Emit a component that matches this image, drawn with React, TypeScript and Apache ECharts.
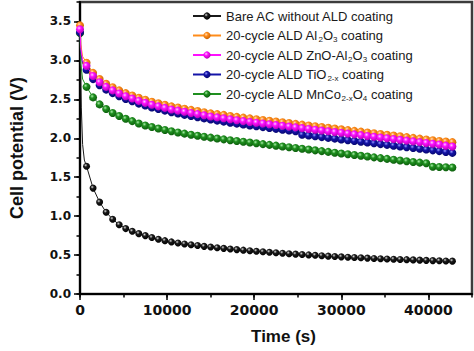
import React, { useEffect, useRef } from "react";
import * as echarts from "echarts";

const times = [
  0, 750, 1500, 2250, 3000, 3750, 4500, 5250, 6000, 6750, 7500, 8250, 9000, 9750, 10500, 11250,
  12000, 12750, 13500, 14250, 15000, 15750, 16500, 17250, 18000, 18750, 19500, 20250, 21000,
  21750, 22500, 23250, 24000, 24750, 25500, 26250, 27000, 27750, 28500, 29250, 30000, 30750,
  31500, 32250, 33000, 33750, 34500, 35250, 36000, 36750, 37500, 38250, 39000, 39750, 40500,
  41250, 42000, 42750,
];

const seriesNames = [
  "Bare AC without ALD coating",
  "20-cycle ALD Al2O3 coating",
  "20-cycle ALD ZnO-Al2O3 coating",
  "20-cycle ALD TiO2-x coating",
  "20-cycle ALD MnCo2-xO4 coating",
];

const legendLabels = [
  "Bare AC without ALD coating",
  "20-cycle ALD Al{s|2}O{s|3} coating",
  "20-cycle ALD ZnO-Al{s|2}O{s|3} coating",
  "20-cycle ALD TiO{s|2-x} coating",
  "20-cycle ALD MnCo{s|2-x}O{s|4} coating",
];

// early (unmarked) samples of the fast initial drop
const blackEarlyTimes = [60, 150, 300, 500];
const blackEarly = [3.0, 2.4, 1.92, 1.72];
const upperEarlyTimes = [100, 300];
const orangeEarly = [3.2, 3.05];
const magentaEarly = [3.15, 3.0];
const blueEarly = [3.1, 2.96];
const greenEarly = [2.95, 2.76];

const bare = [
  3.35, 1.64, 1.36, 1.18, 1.05, 0.96, 0.89, 0.84, 0.805, 0.775, 0.75, 0.725, 0.703, 0.685, 0.669,
  0.655, 0.643, 0.632, 0.622, 0.612, 0.603, 0.594, 0.586, 0.578, 0.57, 0.563, 0.556, 0.549, 0.542,
  0.536, 0.53, 0.524, 0.518, 0.512, 0.507, 0.502, 0.497, 0.492, 0.486, 0.481, 0.477, 0.473, 0.469,
  0.465, 0.461, 0.457, 0.453, 0.45, 0.447, 0.444, 0.441, 0.438, 0.435, 0.432, 0.429, 0.426, 0.424,
  0.422,
];

const al2o3 = [
  3.45, 2.97, 2.84, 2.76, 2.7, 2.655, 2.615, 2.58, 2.55, 2.52, 2.495, 2.47, 2.45, 2.43, 2.41, 2.395,
  2.38, 2.365, 2.35, 2.335, 2.32, 2.31, 2.3, 2.285, 2.275, 2.265, 2.255, 2.245, 2.235, 2.225, 2.215,
  2.205, 2.195, 2.185, 2.175, 2.165, 2.155, 2.145, 2.135, 2.125, 2.115, 2.105, 2.095, 2.085, 2.075,
  2.065, 2.055, 2.045, 2.035, 2.025, 2.015, 2.005, 1.995, 1.985, 1.975, 1.965, 1.958, 1.95,
];

const znoAl2o3 = [
  3.4, 2.93, 2.8, 2.72, 2.66, 2.615, 2.575, 2.54, 2.51, 2.48, 2.455, 2.43, 2.41, 2.39, 2.37, 2.355,
  2.34, 2.325, 2.31, 2.295, 2.28, 2.268, 2.256, 2.244, 2.232, 2.22, 2.21, 2.2, 2.19, 2.18, 2.17,
  2.16, 2.15, 2.14, 2.13, 2.12, 2.11, 2.1, 2.09, 2.08, 2.07, 2.06, 2.05, 2.04, 2.03, 2.02, 2.01,
  2.0, 1.99, 1.98, 1.97, 1.96, 1.95, 1.94, 1.93, 1.92, 1.905, 1.895,
];

const tio2 = [
  3.36, 2.88, 2.76, 2.68, 2.625, 2.58, 2.54, 2.505, 2.475, 2.445, 2.42, 2.395, 2.375, 2.355, 2.335,
  2.318, 2.3, 2.285, 2.27, 2.255, 2.24, 2.227, 2.214, 2.2, 2.188, 2.176, 2.165, 2.154, 2.143, 2.132,
  2.121, 2.11, 2.1, 2.09, 2.045, 2.035, 2.025, 2.015, 2.005, 1.995, 1.985, 1.975, 1.965, 1.955,
  1.945, 1.935, 1.925, 1.915, 1.905, 1.895, 1.885, 1.875, 1.865, 1.855, 1.845, 1.835, 1.823, 1.812,
];

const mnco = [
  3.35, 2.66, 2.525, 2.435, 2.375, 2.325, 2.285, 2.25, 2.22, 2.19, 2.165, 2.145, 2.125, 2.107, 2.09,
  2.075, 2.06, 2.046, 2.033, 2.02, 2.008, 1.997, 1.986, 1.975, 1.965, 1.955, 1.945, 1.935, 1.925,
  1.915, 1.905, 1.895, 1.885, 1.875, 1.865, 1.855, 1.845, 1.835, 1.825, 1.815, 1.805, 1.795, 1.785,
  1.775, 1.765, 1.755, 1.745, 1.735, 1.725, 1.715, 1.705, 1.695, 1.687, 1.679, 1.635, 1.63, 1.627,
  1.624,
];

const xTicks = [0, 10000, 20000, 30000, 40000];

const palette = [
  { base: "#1a1a1a", light: "#d8d8d8", dark: "#000000" },
  { base: "#ff8c1a", light: "#ffe2bf", dark: "#c25e00" },
  { base: "#ff10ff", light: "#ffd0ff", dark: "#b000b0" },
  { base: "#1414a8", light: "#9a9aff", dark: "#06066a" },
  { base: "#1f8f1f", light: "#a8eca8", dark: "#0b5a0b" },
];
const markerSizes = [7, 8, 8, 8, 8];

function sphere(c: { base: string; light: string; dark: string }) {
  return {
    type: "radial",
    x: 0.38,
    y: 0.35,
    r: 0.7,
    colorStops: [
      { offset: 0, color: c.light },
      { offset: 0.35, color: c.base },
      { offset: 1, color: c.dark },
    ],
  };
}

function buildData(values: number[], earlyT: number[], earlyV: number[]) {
  const out: any[] = [{ value: [times[0], values[0]] }];
  earlyT.forEach((t, i) => out.push({ value: [t, earlyV[i]], symbol: "none" }));
  for (let i = 1; i < times.length; i++) out.push({ value: [times[i], values[i]] });
  return out;
}

export default function App() {
  const ref = useRef<HTMLDivElement>(null);
  useEffect(() => {
    if (!ref.current) return;
    const chart = echarts.init(ref.current, undefined, { renderer: "svg" });
    const datas = [
      buildData(bare, blackEarlyTimes, blackEarly),
      buildData(al2o3, upperEarlyTimes, orangeEarly),
      buildData(znoAl2o3, upperEarlyTimes, magentaEarly),
      buildData(tio2, upperEarlyTimes, blueEarly),
      buildData(mnco, upperEarlyTimes, greenEarly),
    ];
    const drawOrder = [0, 4, 3, 1, 2];
    const series = drawOrder.map((k) => ({
      name: seriesNames[k],
      type: "line",
      data: datas[k],
      symbol: "circle",
      symbolSize: markerSizes[k],
      showAllSymbol: true,
      lineStyle: { color: palette[k].base, width: 1 },
      itemStyle: { color: sphere(palette[k]), borderWidth: 0 },
      emphasis: { disabled: true },
      z: 2 + drawOrder.indexOf(k),
    }));
    const labelMap: Record<string, string> = {};
    seriesNames.forEach((n, i) => (labelMap[n] = legendLabels[i]));

    chart.setOption({
      animation: false,
      backgroundColor: "#ffffff",
      grid: {
        left: 73,
        top: 2,
        right: 2,
        bottom: 57,
        show: true,
        borderColor: "#3c3c3c",
        borderWidth: 2.5,
      },
      legend: {
        data: seriesNames,
        orient: "vertical",
        left: 192,
        top: 8,
        padding: 0,
        itemGap: 3.5,
        itemWidth: 28,
        itemHeight: 9,
        formatter: (name: string) => labelMap[name],
        textStyle: {
          fontFamily: "Liberation Sans, Arial, sans-serif",
          fontSize: 13,
          color: "#1a1a1a",
          lineHeight: 16,
          rich: {
            s: {
              fontFamily: "Liberation Sans, Arial, sans-serif",
              fontSize: 8,
              lineHeight: 8,
              verticalAlign: "bottom",
              color: "#1a1a1a",
            },
          },
        },
      },
      xAxis: [
        {
          type: "value",
          min: 0,
          max: 45000,
          interval: 10000,
          position: "bottom",
          name: "Time (s)",
          nameLocation: "middle",
          nameGap: 34,
          nameTextStyle: {
            fontFamily: "Liberation Sans, Arial, sans-serif",
            fontWeight: "bold",
            fontSize: 17,
            color: "#111",
            padding: [0, 0, 0, 15],
          },
          axisLine: { show: true, onZero: false, lineStyle: { color: "#000", width: 2 } },
          axisTick: { show: true, inside: false, length: 6, lineStyle: { color: "#000", width: 1.5 } },
          axisLabel: {
            margin: 9,
            showMaxLabel: false,
            fontFamily: "DejaVu Sans, sans-serif",
            fontWeight: "bold",
            fontSize: 14,
            color: "#111",
            formatter: (v: number) => (xTicks.includes(v) ? String(v) : ""),
          },
          splitLine: { show: false },
        },
        {
          type: "value",
          min: 0,
          max: 45000,
          interval: 5000,
          position: "bottom",
          axisLine: { show: false, onZero: false },
          axisTick: { show: true, inside: false, length: 3.5, lineStyle: { color: "#000", width: 1.5 } },
          axisLabel: { show: false },
          splitLine: { show: false },
        },
      ],
      yAxis: [
        {
          type: "value",
          min: 0,
          max: 3.75,
          interval: 0.5,
          position: "left",
          name: "Cell potential (V)",
          nameLocation: "middle",
          nameGap: 54,
          nameTextStyle: {
            fontFamily: "Liberation Sans, Arial, sans-serif",
            fontWeight: "bold",
            fontSize: 18,
            color: "#111",
          },
          axisLine: { show: true, onZero: false, lineStyle: { color: "#000", width: 2 } },
          axisTick: { show: true, inside: false, length: 6, lineStyle: { color: "#000", width: 1.5 } },
          axisLabel: {
            margin: 9,
            showMaxLabel: false,
            fontFamily: "DejaVu Sans, sans-serif",
            fontWeight: "bold",
            fontSize: 12,
            color: "#111",
            formatter: (v: number) => (Math.abs(v * 2 - Math.round(v * 2)) < 1e-6 ? v.toFixed(1) : ""),
          },
          splitLine: { show: false },
        },
        {
          type: "value",
          min: 0,
          max: 3.75,
          interval: 0.25,
          position: "left",
          axisLine: { show: false, onZero: false },
          axisTick: { show: true, inside: false, length: 3.5, lineStyle: { color: "#000", width: 1.5 } },
          axisLabel: { show: false },
          splitLine: { show: false },
        },
      ],
      series,
    });
    return () => chart.dispose();
  }, []);
  return (
    <div
      ref={ref}
      style={{ position: "fixed", left: 0, top: 0, width: 474, height: 351, background: "#fff" }}
    />
  );
}
